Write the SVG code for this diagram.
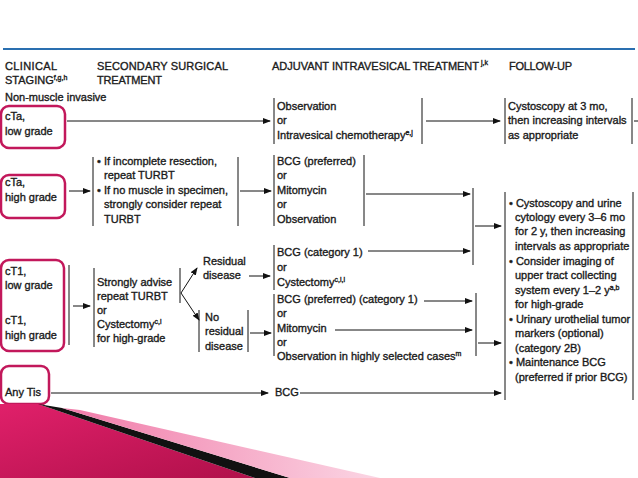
<svg xmlns="http://www.w3.org/2000/svg" width="638" height="478" viewBox="0 0 638 478">
<defs>
<marker id="ah" markerWidth="8" markerHeight="6" refX="7" refY="3" orient="auto" markerUnits="userSpaceOnUse"><path d="M0,0 L8,3 L0,6 z" fill="#111"/></marker>
<linearGradient id="pk" x1="0" y1="0" x2="1" y2="1"><stop offset="0" stop-color="#e0206a"/><stop offset="1" stop-color="#b0104a"/></linearGradient>
<linearGradient id="lp" x1="0" y1="0" x2="1" y2="0"><stop offset="0" stop-color="#f07aa8"/><stop offset="1" stop-color="#fbd6e4"/></linearGradient>
</defs>
<style>
text{font-family:"Liberation Sans",Arial,sans-serif;font-size:11px;fill:#1a1a1a;stroke:#1a1a1a;stroke-width:0.35}
.h{font-size:11px;fill:#222}
.box{fill:#fff;stroke:#c2185b;stroke-width:2.5}
.l{stroke:#111;stroke-width:1;fill:none}
.a{stroke:#111;stroke-width:1;fill:none;marker-end:url(#ah)}
.s{font-size:7px}
</style>
<rect width="638" height="478" fill="#fff"/>
<line x1="3" y1="49" x2="635" y2="49" stroke="#2a6fb0" stroke-width="2"/>
<g id="headers">
<text class="h" x="5" y="70" textLength="52">CLINICAL</text>
<text class="h" x="5" y="84">STAGING<tspan class="s" dy="-4">f,g,h</tspan></text>
<text class="h" x="97" y="70" textLength="131">SECONDARY SURGICAL</text>
<text class="h" x="97" y="84" textLength="65">TREATMENT</text>
<text class="h" x="272" y="70" textLength="207">ADJUVANT INTRAVESICAL TREATMENT</text>
<text class="s" x="481" y="65">j,k</text>
<text class="h" x="509" y="70" textLength="63">FOLLOW-UP</text>
<text x="5" y="101">Non-muscle invasive</text>
</g>
<g id="cTa-low"><rect class="box" x="1" y="106" width="64" height="42" rx="8"/><text x="5" y="120">cTa,</text><text x="5" y="135">low grade</text></g>
<g id="cTa-high"><rect class="box" x="1" y="175" width="64" height="43" rx="8"/><text x="5" y="186">cTa,</text><text x="5" y="201">high grade</text></g>
<g id="cT1"><rect class="box" x="1" y="260" width="63" height="91" rx="8"/><text x="5" y="275">cT1,</text><text x="5" y="289">low grade</text><text x="5" y="324">cT1,</text><text x="5" y="339">high grade</text></g>
<g id="anyTis"><rect class="box" x="1" y="366" width="48" height="38" rx="8"/><text x="5" y="396">Any Tis</text></g>
<g id="obs1"><text x="277" y="110">Observation</text><text x="277" y="124">or</text><text x="277" y="139">Intravesical chemotherapy<tspan class="s" dy="-4">e,j</tspan></text></g>
<g id="fu1"><text x="508" y="110">Cystoscopy at 3 mo,</text><text x="508" y="124">then increasing intervals</text><text x="508" y="139">as appropriate</text></g>
<g id="repeat"><text x="97" y="165">• If incomplete resection,</text><text x="104" y="179">repeat TURBT</text><text x="97" y="194">• If no muscle in specimen,</text><text x="104" y="208">strongly consider repeat</text><text x="104" y="223">TURBT</text></g>
<g id="bcg1"><text x="277" y="165">BCG (preferred)</text><text x="277" y="179">or</text><text x="277" y="194">Mitomycin</text><text x="277" y="208">or</text><text x="277" y="223">Observation</text></g>
<g id="fu2">
<text x="509" y="207">• Cystoscopy and urine</text><text x="515" y="221">cytology every 3–6 mo</text><text x="515" y="235">for 2 y, then increasing</text><text x="515" y="250">intervals as appropriate</text>
<text x="509" y="265">• Consider imaging of</text><text x="515" y="279">upper tract collecting</text><text x="515" y="294">system every 1–2 y<tspan class="s" dy="-4">a,b</tspan></text><text x="515" y="308">for high-grade</text>
<text x="509" y="323">• Urinary urothelial tumor</text><text x="515" y="337">markers (optional)</text><text x="515" y="352">(category 2B)</text>
<text x="509" y="366">• Maintenance BCG</text><text x="515" y="381">(preferred if prior BCG)</text></g>
<g id="strongly"><text x="97" y="286">Strongly advise</text><text x="97" y="300">repeat TURBT</text><text x="97" y="314">or</text><text x="97" y="328">Cystectomy<tspan class="s" dy="-4">c,i</tspan></text><text x="97" y="342">for high-grade</text></g>
<g id="residual"><text x="203" y="265">Residual</text><text x="203" y="279">disease</text></g>
<g id="noresidual"><text x="205" y="321">No</text><text x="205" y="335">residual</text><text x="205" y="350">disease</text></g>
<g id="bcg2"><text x="277" y="256">BCG (category 1)</text><text x="277" y="271">or</text><text x="277" y="286">Cystectomy<tspan class="s" dy="-4">c,i,l</tspan></text></g>
<g id="bcg3"><text x="277" y="303">BCG (preferred) (category 1)</text><text x="277" y="317">or</text><text x="277" y="332">Mitomycin</text><text x="277" y="346">or</text><text x="277" y="360">Observation in highly selected cases<tspan class="s" dy="-4">m</tspan></text></g>
<g id="bcg4"><text x="275" y="396">BCG</text></g>
<g id="connectors">
<path class="l" d="M274,98V144 M422,98V144 M505,98V144 M632,98V144 M93,157V226 M238,157V226 M274,155V226 M364,155V226 M473,188V265 M505,192V400 M633,192V400 M69,265V345 M94,268V347 M180,268V303 M199,310V352 M248,310V352 M274,245V290 M274,294V356 M476,293V356"/>
<path class="a" d="M67,121H270"/><path class="a" d="M426,121H500"/><path class="l" d="M634,121H638"/>
<path class="a" d="M69,191H90"/><path class="a" d="M240,191H271"/><path class="a" d="M366,194H470"/><path class="a" d="M475,226H501"/>
<path class="a" d="M368,251H470"/>
<path class="a" d="M181,293L197,268"/><path class="a" d="M181,293L199,320"/>
<path class="a" d="M249,276H270"/><path class="a" d="M250,333H271"/>
<path class="a" d="M73,306H90"/>
<path class="a" d="M424,301H472"/><path class="a" d="M335,330H472"/><path class="a" d="M478,343H501"/>
<path class="a" d="M51,393H268"/><path class="a" d="M300,393H501"/>
</g>
<polygon points="0,404 38,404 255,478 0,478" fill="url(#pk)"/>
<polygon points="38,404 62,408 290,478 255,478" fill="#111"/>
<polygon points="62,408 80,410 380,478 290,478" fill="url(#lp)"/>
</svg>
